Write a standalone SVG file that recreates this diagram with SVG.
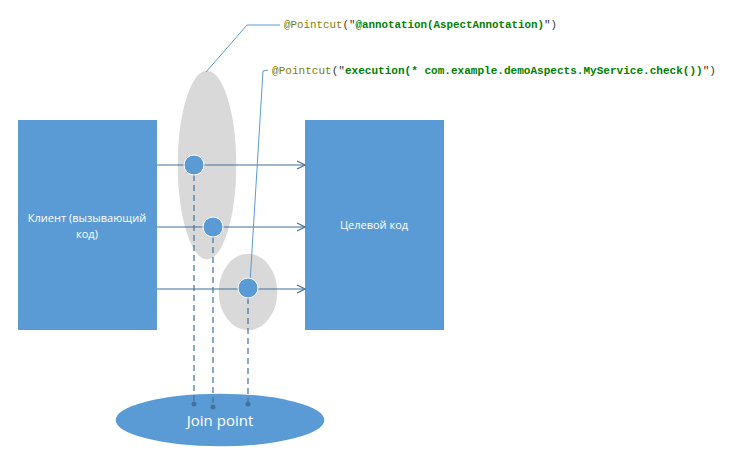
<svg xmlns="http://www.w3.org/2000/svg" width="731" height="460" viewBox="0 0 731 460">
<defs>
<style>
.box{fill:#5B9BD5;}
.lbl{font-family:"Open Sans","Liberation Sans",sans-serif;font-size:11px;fill:#fff;text-anchor:middle;}
.code{font-family:"Liberation Mono",monospace;font-size:11px;font-weight:bold;}
.kw{fill:#808000;font-weight:normal;}
.str{fill:#008000;}
.pn{fill:#333;font-weight:normal;}
.ar{stroke:#41719C;stroke-width:1.2;fill:none;}
.dash{stroke:#41719C;stroke-width:1.2;stroke-dasharray:6,4;fill:none;}
.call{stroke:#5B9BD5;stroke-width:1;fill:none;}
.grp{fill:#D9D9D9;stroke:#fff;stroke-width:1.5;}
.jp{fill:#5B9BD5;stroke:#fff;stroke-width:1.5;}
.end{fill:#41719C;}
</style>
<marker id="arr" markerWidth="10" markerHeight="10" refX="9" refY="5" orient="auto" markerUnits="userSpaceOnUse">
<path d="M1,1 L9,5 L1,9" fill="none" stroke="#41719C" stroke-width="1.2"/>
</marker>
</defs>
<g id="client"><rect class="box" x="18" y="120" width="139" height="210"/>
<text class="lbl" x="87" y="222">Клиент (вызывающий</text><text class="lbl" x="87" y="238">код)</text></g>
<g id="target"><rect class="box" x="305" y="120" width="139" height="210"/>
<text class="lbl" x="374" y="229">Целевой код</text></g>
<g id="pointcut1"><ellipse class="grp" cx="207" cy="165" rx="30" ry="95"/></g>
<g id="pointcut2"><ellipse class="grp" cx="248" cy="292" rx="30" ry="39"/></g>
<g id="joinpoint"><ellipse class="jp" cx="220" cy="420" rx="105" ry="27"/>
<text x="220" y="426" font-family="'Open Sans','Liberation Sans',sans-serif" font-size="15" fill="#fff" text-anchor="middle">Join point</text></g>
<g id="connectors">
<line class="ar" x1="157" y1="165" x2="305" y2="165" marker-end="url(#arr)"/>
<line class="ar" x1="157" y1="227" x2="305" y2="227" marker-end="url(#arr)"/>
<line class="ar" x1="157" y1="289" x2="305" y2="289" marker-end="url(#arr)"/>
<line class="dash" x1="194" y1="165" x2="194" y2="404"/>
<line class="dash" x1="213" y1="227" x2="213" y2="407"/>
<line class="dash" x1="248" y1="288" x2="248" y2="404"/>
<circle class="end" cx="194" cy="404" r="2.5"/>
<circle class="end" cx="213" cy="407" r="2.5"/>
<circle class="end" cx="248" cy="404" r="2.5"/>
<polyline class="call" points="206,72 247,25 280,25"/>
<polyline class="call" points="250,283 263,71 268,70"/>
</g>
<g id="dots">
<circle cx="194" cy="165" r="10" fill="#5B9BD5" stroke="#fff" stroke-width="1"/>
<circle cx="213" cy="227" r="10" fill="#5B9BD5" stroke="#fff" stroke-width="1"/>
<circle cx="248" cy="288" r="10" fill="#5B9BD5" stroke="#fff" stroke-width="1"/>
</g>
<g id="labels">
<text class="code" x="284" y="28" textLength="273" lengthAdjust="spacingAndGlyphs"><tspan class="kw">@Pointcut</tspan><tspan class="pn">("</tspan><tspan class="str">@annotation(AspectAnnotation)</tspan><tspan class="pn">")</tspan></text>
<text class="code" x="272" y="74" textLength="444" lengthAdjust="spacingAndGlyphs"><tspan class="kw">@Pointcut</tspan><tspan class="pn">("</tspan><tspan class="str">execution(* com.example.demoAspects.MyService.check())</tspan><tspan class="pn">")</tspan></text>
</g>
</svg>
